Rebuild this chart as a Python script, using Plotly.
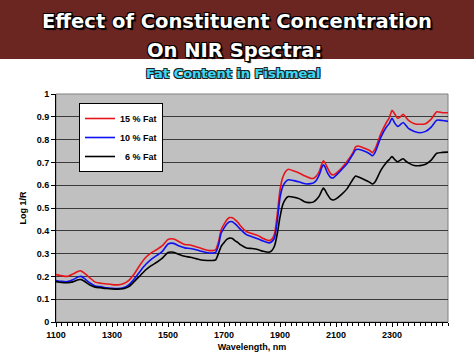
import plotly.graph_objects as go

wavelength = [1100, 1120, 1140, 1160, 1180, 1190, 1200, 1220, 1240, 1260, 1280, 1300, 1320, 1340, 1360,
              1380, 1400, 1420, 1440, 1460, 1480, 1500, 1520, 1540, 1560, 1580, 1600, 1620, 1640, 1660,
              1670, 1680, 1690, 1700, 1710, 1720, 1730, 1740, 1750, 1760, 1780, 1800, 1820, 1840, 1860,
              1870, 1880, 1890, 1900, 1910, 1920, 1930, 1950, 1970, 1990, 2010, 2020, 2030, 2040, 2050,
              2055, 2060, 2070, 2080, 2090, 2100, 2120, 2140, 2160, 2170, 2180, 2200, 2220, 2230, 2240,
              2260, 2280, 2290, 2300, 2310, 2320, 2330, 2340, 2350, 2360, 2380, 2400, 2420, 2440, 2460,
              2480, 2500]

fat_15 = [0.208, 0.203, 0.200, 0.210, 0.223, 0.224, 0.215, 0.195, 0.175, 0.170, 0.167, 0.164, 0.163, 0.168, 0.183,
          0.212, 0.250, 0.283, 0.303, 0.318, 0.335, 0.362, 0.364, 0.352, 0.340, 0.338, 0.330, 0.322, 0.315, 0.313,
          0.316, 0.350, 0.405, 0.428, 0.448, 0.458, 0.457, 0.448, 0.436, 0.420, 0.397, 0.388, 0.380, 0.366, 0.357,
          0.362, 0.385, 0.470, 0.580, 0.635, 0.660, 0.670, 0.662, 0.652, 0.640, 0.630, 0.630, 0.640, 0.660, 0.695,
          0.707, 0.700, 0.675, 0.652, 0.645, 0.652, 0.675, 0.705, 0.742, 0.768, 0.772, 0.763, 0.752, 0.743, 0.760,
          0.825, 0.875, 0.895, 0.928, 0.912, 0.894, 0.900, 0.911, 0.897, 0.883, 0.870, 0.867, 0.870, 0.890, 0.922,
          0.918, 0.918]

fat_10 = [0.182, 0.178, 0.177, 0.185, 0.198, 0.200, 0.192, 0.172, 0.158, 0.155, 0.150, 0.148, 0.147, 0.150, 0.163,
          0.190, 0.222, 0.252, 0.275, 0.292, 0.310, 0.342, 0.345, 0.333, 0.325, 0.322, 0.317, 0.310, 0.304, 0.302,
          0.305, 0.335, 0.390, 0.412, 0.430, 0.440, 0.440, 0.430, 0.418, 0.405, 0.383, 0.374, 0.365, 0.355, 0.347,
          0.352, 0.368, 0.440, 0.545, 0.595, 0.615, 0.624, 0.620, 0.614, 0.606, 0.607, 0.610, 0.622, 0.645, 0.680,
          0.690, 0.682, 0.653, 0.635, 0.632, 0.643, 0.668, 0.695, 0.735, 0.755, 0.758, 0.750, 0.738, 0.729, 0.745,
          0.810, 0.855, 0.870, 0.893, 0.872, 0.858, 0.866, 0.875, 0.862, 0.848, 0.836, 0.830, 0.836, 0.855, 0.885,
          0.884, 0.880]

fat_6 = [0.177, 0.173, 0.172, 0.176, 0.185, 0.186, 0.180, 0.163, 0.153, 0.150, 0.147, 0.145, 0.144, 0.146, 0.155,
         0.178, 0.203, 0.228, 0.247, 0.262, 0.280, 0.305, 0.306, 0.296, 0.288, 0.284, 0.278, 0.272, 0.270, 0.270,
         0.272, 0.300, 0.332, 0.348, 0.362, 0.368, 0.366, 0.356, 0.348, 0.338, 0.325, 0.322, 0.318, 0.310, 0.306,
         0.312, 0.332, 0.385, 0.460, 0.515, 0.540, 0.550, 0.547, 0.540, 0.526, 0.524, 0.527, 0.537, 0.552, 0.578,
         0.587, 0.580, 0.558, 0.540, 0.535, 0.540, 0.560, 0.585, 0.625, 0.640, 0.636, 0.625, 0.613, 0.605, 0.615,
         0.665, 0.700, 0.712, 0.726, 0.712, 0.703, 0.710, 0.716, 0.705, 0.697, 0.686, 0.686, 0.692, 0.710, 0.740,
         0.744, 0.745]

series_names = ["15 % Fat", "10 % Fat", "\u00a0\u00a06 % Fat"]
series_values = [fat_15, fat_10, fat_6]
series_colors = ["#E8141C", "#1010F0", "#000000"]

x_tick_vals = [1100, 1300, 1500, 1700, 1900, 2100, 2300]
y_tick_vals = [0, 0.1, 0.2, 0.3, 0.4, 0.5, 0.6, 0.7, 0.8, 0.9, 1]
y_tick_text = ["0", "0.1", "0.2", "0.3", "0.4", "0.5", "0.6", "0.7", "0.8", "0.9", "1"]

title_line1 = "Effect of Constituent Concentration"
title_line2 = "On NIR Spectra:"
subtitle = "Fat Content in Fishmeal"

fig = go.Figure()
for name, vals, col in zip(series_names, series_values, series_colors):
    fig.add_trace(go.Scatter(x=wavelength, y=vals, mode="lines", name=name,
                             line=dict(color=col, width=1.6, shape="spline", smoothing=0.6)))

W, H = 474, 355
L, R, T, B = 56, 26, 94, 33
pw, ph = W - L - R, H - T - B

def px_x(p):
    return (p - L) / pw

def px_y(p):
    return (H - B - p) / ph

outline = "-1px -1px 0 #000, 1px -1px 0 #000, -1px 1px 0 #000, 1px 1px 0 #000, 2px 2px 1px #000"
outline_thin = "-1px -1px 0 #222, 1px -1px 0 #222, -1px 1px 0 #222, 1px 1px 0 #222"

fig.update_layout(
    width=W, height=H,
    margin=dict(l=L, r=R, t=T, b=B, autoexpand=False),
    paper_bgcolor="white",
    plot_bgcolor="#C0C0C0",
    showlegend=True,
    legend=dict(x=px_x(79), y=px_y(103), xanchor="left", yanchor="top",
                bgcolor="white", bordercolor="black", borderwidth=1,
                font=dict(family="Liberation Sans, Arial", size=9, color="black", weight="bold"),
                itemwidth=30, tracegroupgap=0),
    shapes=[dict(type="rect", xref="paper", yref="paper", x0=px_x(-5), x1=px_x(W + 5),
                 y0=px_y(59), y1=px_y(-5), fillcolor="#6B2622", line=dict(width=0), layer="below")],
    annotations=[
        dict(text=title_line1, xref="paper", yref="paper", x=px_x(237), y=px_y(22),
             showarrow=False, xanchor="center", yanchor="middle",
             font=dict(family="DejaVu Sans", size=19.5, color="white", weight="bold", shadow=outline)),
        dict(text=title_line2, xref="paper", yref="paper", x=px_x(234), y=px_y(51),
             showarrow=False, xanchor="center", yanchor="middle",
             font=dict(family="DejaVu Sans", size=19.5, color="white", weight="bold", shadow=outline)),
        dict(text=subtitle, xref="paper", yref="paper", x=px_x(233), y=px_y(74),
             showarrow=False, xanchor="center", yanchor="middle",
             font=dict(family="DejaVu Sans", size=13, color="#3AD8F2", weight="bold", shadow=outline_thin)),
    ],
)

fig.update_xaxes(range=[1100, 2500], tickvals=x_tick_vals, ticktext=[str(v) for v in x_tick_vals],
                 ticks="outside", ticklen=4, tickcolor="black",
                 minor=dict(dtick=20, tick0=1100, ticks="outside", ticklen=3, tickcolor="black", showgrid=False),
                 showline=True, linecolor="black", linewidth=1, mirror=False,
                 showgrid=False, zeroline=False,
                 tickfont=dict(family="Liberation Sans, Arial", size=9, color="black", weight="bold"),
                 title=dict(text="Wavelength, nm", standoff=4,
                            font=dict(family="Liberation Sans, Arial", size=9, color="black", weight="bold")))
fig.update_yaxes(range=[0, 1], tickvals=y_tick_vals, ticktext=y_tick_text,
                 ticks="outside", ticklen=4, tickcolor="black",
                 showline=True, linecolor="black", linewidth=1,
                 showgrid=True, gridcolor="#3A3A3A", gridwidth=1, zeroline=False,
                 tickfont=dict(family="Liberation Sans, Arial", size=9, color="black", weight="bold"),
                 title=dict(text="Log 1/R", standoff=8,
                            font=dict(family="Liberation Sans, Arial", size=9, color="black", weight="bold")))

fig.add_shape(type="rect", xref="paper", yref="paper", x0=0, x1=1, y0=0, y1=1,
              line=dict(color="#808080", width=1), fillcolor="rgba(0,0,0,0)", layer="below")

fig.write_html("out.html", config={"displayModeBar": False},
               post_script="document.body.style.margin='0';")
